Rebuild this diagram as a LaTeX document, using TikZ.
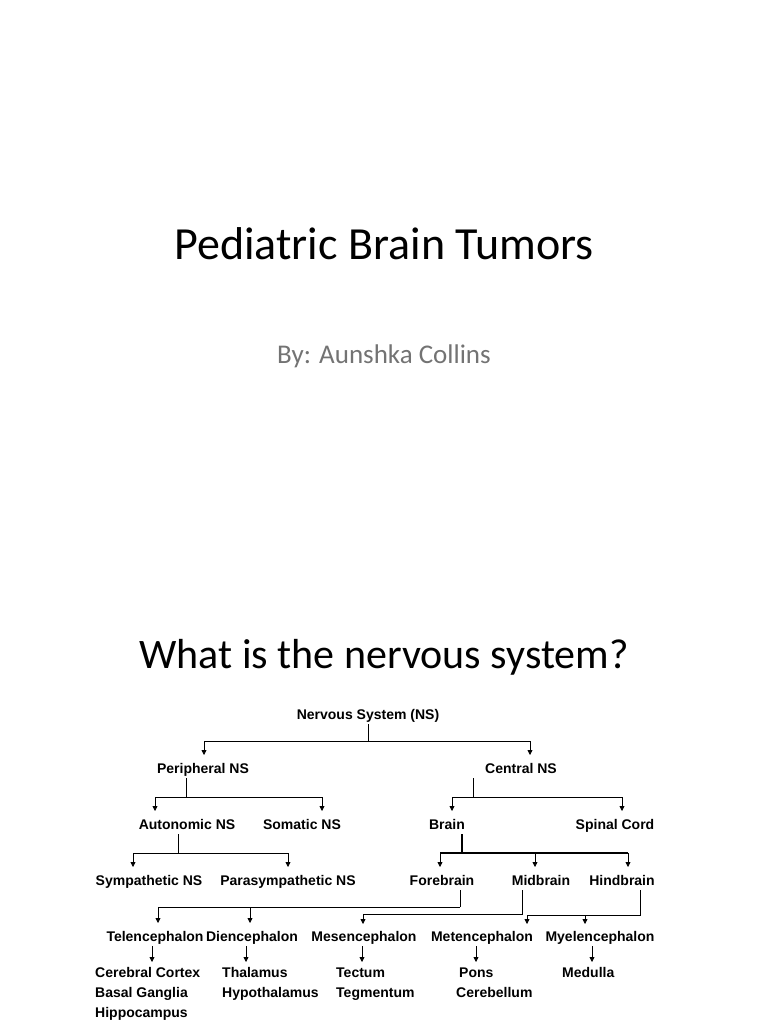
\documentclass[tikz,border=0pt]{standalone}
\usepackage{fontspec}
\setmainfont{Carlito}
\newfontfamily\diag{Liberation Sans}
\usetikzlibrary{arrows.meta}
\begin{document}
\begin{tikzpicture}[x=1pt,y=-1pt,
  lbl/.style={font=\diag\bfseries\fontsize{14}{16}\selectfont,inner sep=0pt,anchor=base},
  leaf/.style={font=\diag\bfseries\fontsize{14}{16}\selectfont,inner sep=0pt,anchor=base west},
  ln/.style={line width=0.8pt},
  ar/.style={line width=0.8pt,-{Triangle[width=5pt,length=5pt]}}]
\useasboundingbox (0,0) rectangle (768,1024);
\node[font=\fontsize{46}{52}\selectfont,anchor=base] (t) at (384,259) {Pediatric Brain Tumors};
\node[font=\fontsize{27}{32}\selectfont,text=black!55,anchor=base] (by) at (384,363) {By: Aunshka Collins};
\node[font=\fontsize{42}{48}\selectfont,anchor=base] (q) at (384,668) {What is the nervous system?};
\node[lbl] (ns) at (368,719) {Nervous System (NS)};
\node[lbl] (pns) at (203,773) {Peripheral NS};
\node[lbl] (cns) at (521,773) {Central NS};
\node[lbl] (ans) at (187,829) {Autonomic NS};
\node[lbl] (sns) at (302,829) {Somatic NS};
\node[lbl] (br) at (447,829) {Brain};
\node[lbl] (sc) at (615,829) {Spinal Cord};
\node[lbl] (sym) at (149,885) {Sympathetic NS};
\node[lbl] (para) at (288,885) {Parasympathetic NS};
\node[lbl] (fb) at (442,885) {Forebrain};
\node[lbl] (mb) at (541,885) {Midbrain};
\node[lbl] (hb) at (622,885) {Hindbrain};
\node[lbl] (tel) at (155,941) {Telencephalon};
\node[lbl] (die) at (252,941) {Diencephalon};
\node[lbl] (mes) at (364,941) {Mesencephalon};
\node[lbl] (met) at (482,941) {Metencephalon};
\node[lbl] (mye) at (600,941) {Myelencephalon};
\node[leaf] (l1a) at (95,977) {Cerebral Cortex};
\node[leaf] (l1b) at (95,997) {Basal Ganglia};
\node[leaf] (l1c) at (95,1017) {Hippocampus};
\node[leaf] (l2a) at (222,977) {Thalamus};
\node[leaf] (l2b) at (222,997) {Hypothalamus};
\node[leaf] (l3a) at (336,977) {Tectum};
\node[leaf] (l3b) at (336,997) {Tegmentum};
\node[leaf] (l4a) at (459,977) {Pons};
\node[leaf] (l4b) at (456,997) {Cerebellum};
\node[leaf] (l5a) at (562,977) {Medulla};
\draw[ln] (368,724) -- (368,741);
\draw[ar] (368,741) -| (204,755);
\draw[ar] (368,741) -| (530,755);
\draw[ln] (186,778) -- (186,797);
\draw[ar] (186,797) -| (155,811);
\draw[ar] (186,797) -| (322,811);
\draw[ln] (473,778) -- (473,797);
\draw[ar] (473,797) -| (452,811);
\draw[ar] (473,797) -| (622,811);
\draw[ln] (178,834) -- (178,853);
\draw[ar] (178,853) -| (133,867);
\draw[ar] (178,853) -| (288,867);
\draw[line width=1.3pt] (462,834) -- (462,853);
\draw[line width=1.3pt] (440,853) -- (628,853);
\draw[ar] (440,853) -- (440,867);
\draw[ar] (535,853) -- (535,867);
\draw[ar] (628,853) -- (628,867);
\draw[ln] (460,890) -- (460,907);
\draw[ar] (460,907) -| (158,923);
\draw[ar] (250,907) -- (250,923);
\draw[ar] (522,890) |- (363,914) -- (363,924);
\draw[ar] (640,890) |- (527,915) -- (527,924);
\draw[ar] (585,915) -- (585,924);
\foreach \x in {152,246,362,476,592}
  \draw[ar] (\x,946) -- (\x,962);
\end{tikzpicture}
\end{document}
